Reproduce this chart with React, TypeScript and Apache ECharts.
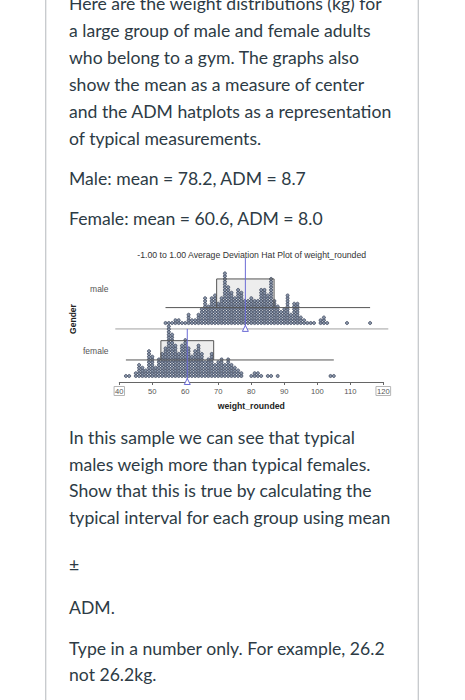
import React, { useEffect, useRef } from "react";
import * as echarts from "echarts";

// ---------- data ----------
const weightTicks = [40, 50, 60, 70, 80, 90, 100, 110, 120];
const groups = ["male", "female"];

const maleWeights = [54, 55, 56, 57, 58, 59, 60, 61, 62, 63, 64, 65, 66, 67, 68, 69, 70, 71, 72, 73, 74, 75, 76, 77, 78, 79, 80, 81, 82, 83, 84, 85, 86, 87, 88, 89, 90, 91, 92, 93, 94, 95, 96, 97, 98, 99, 101, 102, 103, 109, 116];
const maleCounts = [1, 1, 1, 2, 2, 1, 1, 4, 2, 2, 4, 6, 10, 7, 10, 11, 8, 10, 19, 14, 12, 10, 13, 12, 9, 9, 10, 9, 9, 13, 13, 11, 17, 9, 7, 5, 6, 11, 4, 8, 8, 3, 2, 1, 1, 1, 2, 3, 1, 1, 1];

const femaleWeights = [42, 43, 45, 46, 47, 48, 49, 50, 51, 52, 53, 54, 55, 56, 57, 58, 59, 60, 61, 62, 63, 64, 65, 66, 67, 68, 69, 70, 71, 72, 73, 74, 75, 76, 77, 80, 81, 82, 83, 85, 86, 88, 104, 105];
const femaleCounts = [1, 1, 2, 5, 4, 3, 10, 8, 4, 7, 9, 11, 19, 16, 12, 9, 12, 14, 11, 8, 10, 12, 9, 6, 7, 9, 5, 6, 7, 5, 7, 5, 4, 3, 2, 1, 2, 2, 1, 1, 1, 1, 1, 1];

const groupMeans = [78.2, 60.6];
const groupADMs = [8.7, 8.0];
const groupMins = [54, 42];
const groupMaxs = [116, 105];

const chartTitle = "-1.00 to 1.00 Average Deviation Hat Plot of weight_rounded";
const xAxisName = "weight_rounded";
const yAxisName = "Gender";

const introLines = [
  "Here are the weight distributions (kg) for",
  "a large group of male and female adults",
  "who belong to a gym. The graphs also",
  "show the mean as a measure of center",
  "and the ADM hatplots as a representation",
  "of typical measurements.",
];
const statLines = ["Male: mean = 78.2, ADM = 8.7", "Female: mean = 60.6, ADM = 8.0"];
const outroLines = [
  "In this sample we can see that typical",
  "males weigh more than typical females.",
  "Show that this is true by calculating the",
  "typical interval for each group using mean",
  "\u00B1",
  "ADM.",
  "Type in a number only. For example, 26.2",
  "not 26.2kg.",
];

// ---------- layout ----------
const W = 465;
const H = 700;
const AXIS_X0 = 119.3;
const AXIS_X1 = 383.3;
const AXIS_Y = 382;
const GRID_TOP = 258;
const Y_MAX = 45; // y units = dot pitch
const ROW_BASE = [21.4, 2.18];
const BRIM_Y = [27, 8];
const BOX_TOP_Y = [37.4, 15];
const MEAN_LO = [19.27, 0];
const MEAN_HI = [45, 19.27];
const SEPARATOR_Y = 19.27;

const TEXT_X = 69;
const TEXT_FONT = "17.6px Lato";
const TEXT_COLOR = "#2d3b45";
const BASE_OFF = 6.6; // alphabetic baseline -> central
const introBaselines = [10.3, 37.3, 64.3, 91.3, 118.3, 145.3];
const statBaselines = [185, 225];
const outroBaselines = [444, 470.7, 497.3, 524, 571, 614, 655, 681];

const CHART_FONT = "Liberation Sans";
const MEAN_COLOR = "#6b6bd6";

function dotData(weights: number[], counts: number[], base: number) {
  const out: number[][] = [];
  weights.forEach((w, i) => {
    for (let k = 0; k < counts[i]; k++) out.push([w, base + k]);
  });
  return out;
}

function textEl(s: string, baseline: number) {
  return {
    type: "text",
    x: TEXT_X,
    y: baseline - BASE_OFF,
    silent: true,
    style: { text: s, font: TEXT_FONT, fill: TEXT_COLOR, textAlign: "left", textVerticalAlign: "middle" },
  };
}

function buildOption() {
  const hatData = groups.map((_, i) => [
    groupMins[i],
    groupMaxs[i],
    groupMeans[i] - groupADMs[i],
    groupMeans[i] + groupADMs[i],
    groupMeans[i],
  ]);

  const graphic: any[] = [
    { type: "line", silent: true, shape: { x1: 45.7, y1: 0, x2: 45.7, y2: H }, style: { stroke: "#c6c9cc", lineWidth: 1.3 } },
    { type: "line", silent: true, shape: { x1: 418.3, y1: 0, x2: 418.3, y2: H }, style: { stroke: "#c6c9cc", lineWidth: 1.3 } },
    ...introLines.map((s, i) => textEl(s, introBaselines[i])),
    ...statLines.map((s, i) => textEl(s, statBaselines[i])),
    ...outroLines.map((s, i) => textEl(s, outroBaselines[i])),
    {
      type: "text",
      x: 251.7,
      y: 254.5,
      silent: true,
      style: { text: chartTitle, font: `8.7px '${CHART_FONT}'`, fill: "#333", textAlign: "center", textVerticalAlign: "middle" },
    },
    {
      type: "text",
      x: 108.5,
      y: 289,
      silent: true,
      style: { text: groups[0], font: `8.5px '${CHART_FONT}'`, fill: "#555", textAlign: "right", textVerticalAlign: "middle" },
    },
    {
      type: "text",
      x: 108.5,
      y: 350.7,
      silent: true,
      style: { text: groups[1], font: `8.5px '${CHART_FONT}'`, fill: "#555", textAlign: "right", textVerticalAlign: "middle" },
    },
    {
      type: "text",
      x: 73,
      y: 319,
      rotation: Math.PI / 2,
      silent: true,
      style: { text: yAxisName, font: `bold 8.5px '${CHART_FONT}'`, fill: "#222", textAlign: "center", textVerticalAlign: "middle" },
    },
  ];

  const first = weightTicks[0];
  const last = weightTicks[weightTicks.length - 1];

  return {
    animation: false,
    backgroundColor: "#fff",
    grid: { left: AXIS_X0, right: W - AXIS_X1, top: GRID_TOP, bottom: H - AXIS_Y, containLabel: false },
    xAxis: {
      type: "value",
      min: first,
      max: last,
      interval: 10,
      name: xAxisName,
      nameLocation: "middle",
      nameGap: 19,
      nameTextStyle: { fontFamily: CHART_FONT, fontWeight: "bold", fontSize: 8.7, color: "#222" },
      axisLine: { lineStyle: { color: "#666", width: 1 } },
      axisTick: { show: true, length: 3, lineStyle: { color: "#666" } },
      splitLine: { show: false },
      axisLabel: {
        margin: 4.5,
        formatter: (v: number) => (v === first || v === last ? `{box|${v}}` : `{n|${v}}`),
        rich: {
          box: { fontFamily: CHART_FONT, fontSize: 7.6, color: "#555", borderColor: "#b5b5b5", borderWidth: 1, padding: [1, 1, 0, 1] },
          n: { fontFamily: CHART_FONT, fontSize: 7.6, color: "#555", padding: [1, 0, 0, 0] },
        },
      },
    },
    yAxis: { type: "value", min: 0, max: Y_MAX, show: false },
    graphic,
    series: [
      {
        type: "custom",
        name: "separator",
        z: 1,
        silent: true,
        data: [[first, last]],
        renderItem: (_p: any, api: any) => {
          const a = api.coord([api.value(0), SEPARATOR_Y]);
          const b = api.coord([api.value(1), SEPARATOR_Y]);
          return {
            type: "line",
            shape: { x1: a[0] - 4, y1: a[1], x2: b[0] + 5, y2: b[1] },
            style: { stroke: "#c9c9c9", lineWidth: 1.6 },
          };
        },
      },
      {
        type: "custom",
        name: "hatFill",
        z: 1,
        silent: true,
        data: hatData,
        renderItem: (p: any, api: any) => {
          const i = p.dataIndex;
          const a = api.coord([api.value(2), BOX_TOP_Y[i]]);
          const b = api.coord([api.value(3), BRIM_Y[i]]);
          return {
            type: "rect",
            shape: { x: a[0], y: a[1], width: b[0] - a[0], height: b[1] - a[1] },
            style: { fill: "#ededed" },
          };
        },
      },
      {
        type: "scatter",
        name: "male",
        z: 2,
        silent: true,
        symbol: "circle",
        symbolSize: 3.1,
        itemStyle: { color: "#8a96aa", borderColor: "#2f3a50", borderWidth: 0.7, opacity: 1 },
        data: dotData(maleWeights, maleCounts, ROW_BASE[0]),
      },
      {
        type: "scatter",
        name: "female",
        z: 2,
        silent: true,
        symbol: "circle",
        symbolSize: 3.1,
        itemStyle: { color: "#8a96aa", borderColor: "#2f3a50", borderWidth: 0.7, opacity: 1 },
        data: dotData(femaleWeights, femaleCounts, ROW_BASE[1]),
      },
      {
        type: "custom",
        name: "hatLines",
        z: 3,
        silent: true,
        data: hatData,
        renderItem: (p: any, api: any) => {
          const i = p.dataIndex;
          const bl = api.coord([api.value(0), BRIM_Y[i]]);
          const br = api.coord([api.value(1), BRIM_Y[i]]);
          const tl = api.coord([api.value(2), BOX_TOP_Y[i]]);
          const tr = api.coord([api.value(3), BOX_TOP_Y[i]]);
          const ml = api.coord([api.value(2), BRIM_Y[i]]);
          const mr = api.coord([api.value(3), BRIM_Y[i]]);
          const mTop = api.coord([api.value(4), MEAN_HI[i]]);
          const mBot = api.coord([api.value(4), MEAN_LO[i]]);
          const stroke = "#555";
          return {
            type: "group",
            children: [
              { type: "line", shape: { x1: bl[0], y1: bl[1], x2: br[0], y2: br[1] }, style: { stroke, lineWidth: 1 } },
              {
                type: "polyline",
                shape: { points: [[ml[0], ml[1]], [tl[0], tl[1]], [tr[0], tr[1]], [mr[0], mr[1]]] },
                style: { stroke, lineWidth: 1, fill: null },
              },
              {
                type: "line",
                shape: { x1: mTop[0], y1: mTop[1], x2: mBot[0], y2: mBot[1] - 2 },
                style: { stroke: MEAN_COLOR, lineWidth: 1 },
              },
              {
                type: "polygon",
                shape: {
                  points: [
                    [mBot[0], mBot[1] - 3.5],
                    [mBot[0] - 3, mBot[1] + 2.5],
                    [mBot[0] + 3, mBot[1] + 2.5],
                  ],
                },
                style: { stroke: MEAN_COLOR, lineWidth: 1, fill: "#fff" },
              },
            ],
          };
        },
      },
    ],
  };
}

export default function App() {
  const ref = useRef<HTMLDivElement>(null);
  useEffect(() => {
    if (!ref.current) return;
    const chart = echarts.init(ref.current, null, { renderer: "svg" });
    chart.setOption(buildOption() as any);
    return () => chart.dispose();
  }, []);
  return (
    <div
      ref={ref}
      style={{ position: "fixed", left: 0, top: 0, width: W, height: H, background: "#fff" }}
    />
  );
}
